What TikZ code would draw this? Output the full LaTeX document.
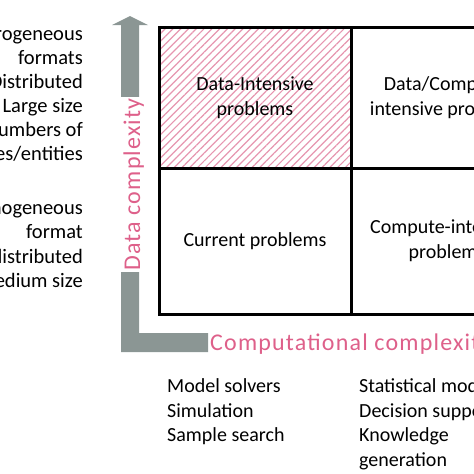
\documentclass[tikz,border=0pt]{standalone}
\usepackage{fontspec}
\setmainfont{Carlito}
\newfontfamily\axisfont[LetterSpace=5]{Carlito}
\usetikzlibrary{positioning,patterns.meta}
\definecolor{axisgray}{RGB}{139,150,148}
\definecolor{axispink}{RGB}{222,96,138}
\definecolor{hatchpink}{RGB}{230,150,176}

\begin{document}
\begin{tikzpicture}[x=1pt, y=-1pt,
    cell/.style={draw, line width=3pt, outer sep=0pt, minimum width=192pt,
      align=center, font=\fontsize{20}{25}\selectfont},
    side/.style={anchor=base east, inner sep=0pt, font=\fontsize{20.5}{24}\selectfont},
    task/.style={anchor=base west, inner sep=0pt, font=\fontsize{20}{24}\selectfont},
    axislabel/.style={inner sep=0pt, text=axispink, font=\axisfont\fontsize{24}{28}\selectfont}]
  \useasboundingbox (0,0) rectangle (474,474);
  \clip (0,0) rectangle (474,474);

  % quadrants
  \node[cell, minimum height=141pt,
    pattern={Lines[angle=45,distance=5.5pt,line width=1.2pt]}, pattern color=hatchpink]
    (di) at (255,97.5) {Data-Intensive\\problems};
  \node[cell, minimum height=141pt, right=0pt of di] (dc) {Data/Compute-\\intensive problems};
  \node[cell, minimum height=146pt, below=0pt of di] (cp) {Current problems};
  \node[cell, minimum height=146pt, right=0pt of cp] (ci) {Compute-intensive\\problems};

  % axes
  \fill[axisgray] (121,352) -- (121,25) -- (112,25) -- (130,16) -- (148,25) -- (139,25)
    -- (139,333) -- (208,333) -- (208,352) -- cycle;
  \node[axislabel, fill=white, inner xsep=1pt, inner ysep=3pt, rotate=90, anchor=base west]
    (dcx) at (140,272) {Data complexity};
  \node[axislabel, anchor=base west] (ccx) at (210,350) {Computational complexity};

  % data properties
  \foreach \txt [count=\i] in {Heterogeneous, formats, Distributed, Large size, Large numbers of, sources/entities}
    \node[side] (het\i) at (83, 16.5+24*\i) {\txt};
  \foreach \txt [count=\i] in {Homogeneous, format, Non-distributed, Medium size}
    \node[side] (hom\i) at (83, 189.5+24.5*\i) {\txt};

  % computational tasks
  \foreach \txt [count=\i] in {Model solvers, Simulation, Sample search}
    \node[task] (ms\i) at (167, 368+24.5*\i) {\txt};
  \foreach \txt [count=\i] in {Statistical models, Decision support, Knowledge, generation}
    \node[task] (sm\i) at (359, 368+24.5*\i) {\txt};
\end{tikzpicture}
\end{document}
